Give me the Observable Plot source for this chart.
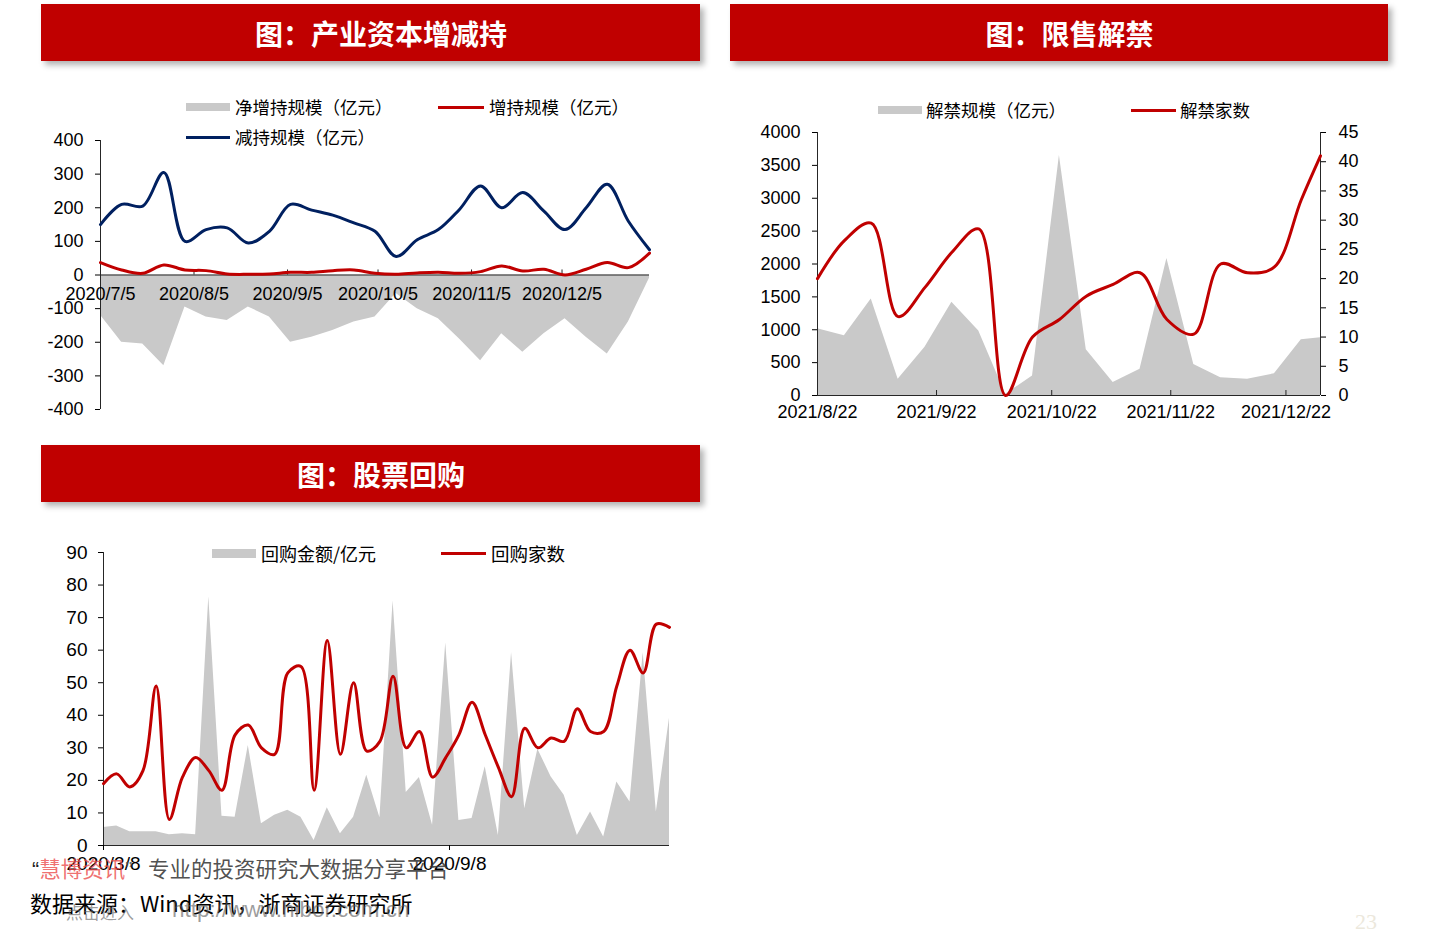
<!DOCTYPE html>
<html><head><meta charset="utf-8">
<script src="https://cdn.jsdelivr.net/npm/d3@7"></script>
<script src="https://cdn.jsdelivr.net/npm/@observablehq/plot@0.6"></script>
<style>
html,body{margin:0;padding:0;background:#fff;}
body{width:1440px;height:935px;position:relative;overflow:hidden;font-family:"Liberation Sans",Arial,"Noto Sans CJK SC",sans-serif;}
.abs{position:absolute;white-space:nowrap;line-height:1;}
.bar{position:absolute;box-sizing:border-box;padding-left:21px;background:#C00000;color:#fff;font-family:"Noto Sans CJK SC",sans-serif;font-weight:700;font-size:28px;display:flex;align-items:center;justify-content:center;box-shadow:4px 4px 6px rgba(0,0,0,0.3);}
.leg{position:absolute;font-family:"Noto Sans CJK SC",sans-serif;font-size:16px;color:#000;line-height:1;white-space:nowrap;transform:translateY(-50%);}
</style></head><body>
<script>
// ---------- Chart 1: 产业资本增减持 (weekly) ----------
const holdDates = ["2020-07-05","2020-07-12","2020-07-19","2020-07-26","2020-08-02","2020-08-09","2020-08-16","2020-08-23","2020-08-30","2020-09-06","2020-09-13","2020-09-20","2020-09-27","2020-10-04","2020-10-11","2020-10-18","2020-10-25","2020-11-01","2020-11-08","2020-11-15","2020-11-22","2020-11-29","2020-12-06","2020-12-13","2020-12-20","2020-12-27","2021-01-03"];
const holdNet      = [-120,-200,-205,-270,-95,-125,-135,-95,-125,-200,-185,-165,-140,-125,-55,-100,-130,-190,-255,-175,-230,-175,-130,-185,-235,-140,-10];
const holdIncrease = [37,15,5,30,15,13,3,2,3,8,8,13,15,5,2,6,8,5,10,27,12,17,0,17,37,22,65];
const holdDecrease = [150,210,205,305,100,135,140,95,130,210,193,178,155,130,55,105,135,195,265,200,245,190,135,200,270,160,75];
const holdXTicks = ["2020-07-05","2020-08-05","2020-09-05","2020-10-05","2020-11-05","2020-12-05"];
const holdYTicks = [-400,-300,-200,-100,0,100,200,300,400];

// ---------- Chart 2: 限售解禁 (weekly) ----------
const unlockDates = ["2021-08-22","2021-08-29","2021-09-05","2021-09-12","2021-09-19","2021-09-26","2021-10-03","2021-10-10","2021-10-17","2021-10-24","2021-10-31","2021-11-07","2021-11-14","2021-11-21","2021-11-28","2021-12-05","2021-12-12","2021-12-19","2021-12-26","2021-12-31"];
const unlockAmount = [1016,910,1469,249,732,1418,981,20,295,3650,696,198,400,2084,473,269,249,330,849,879];
const unlockCount  = [20,26.5,29.5,13.5,18.5,24.5,28.5,0,10,13,17,19,21,13,10.5,22.5,21,22,33.5,41];
const unlockXTicks = ["2021-08-22","2021-09-22","2021-10-22","2021-11-22","2021-12-22"];
const unlockLeftTicks  = [0,500,1000,1500,2000,2500,3000,3500,4000];
const unlockRightTicks = [0,5,10,15,20,25,30,35,40,45];

// ---------- Chart 3: 股票回购 (weekly) ----------
const buybackDates = ["2020-03-08","2020-03-15","2020-03-22","2020-03-29","2020-04-05","2020-04-12","2020-04-19","2020-04-26","2020-05-03","2020-05-10","2020-05-17","2020-05-24","2020-05-31","2020-06-07","2020-06-14","2020-06-21","2020-06-28","2020-07-05","2020-07-12","2020-07-19","2020-07-26","2020-08-02","2020-08-09","2020-08-16","2020-08-23","2020-08-30","2020-09-06","2020-09-13","2020-09-20","2020-09-27","2020-10-04","2020-10-11","2020-10-18","2020-10-25","2020-11-01","2020-11-08","2020-11-15","2020-11-22","2020-11-29","2020-12-06","2020-12-13","2020-12-20","2020-12-27","2021-01-03"];
const buybackAmount = [5.5,6,4.2,4.2,4.2,3.3,3.6,3.3,76.4,9,8.7,30.7,6.7,9.3,10.8,8.7,1.5,11.6,3.6,8.7,21.6,8.5,75.1,16.3,20.9,6.2,62.2,7.7,8.3,24.2,3.1,59.2,11.3,29.6,21.1,15.4,3.1,10.3,2.6,19.5,13.4,59.2,10.3,39.1];
const buybackCount  = [19,22,18,23,49,8,21,27,23,17,34,37,30,28,53,55,17,63,28,50,29,32,52,30,35,21,27,34,44,34,24,15,36,30,33,32,42,35,35,49,60,53,68,67];
const buybackXTicks = ["2020-03-08","2020-09-08"];
const buybackYTicks = [0,10,20,30,40,50,60,70,80,90];

// ---------- styling ----------
const GRAY = "#C9C9C9", RED = "#C00000", NAVY = "#002060", AX = "#262626";
const FONT = "'Liberation Sans', Arial, 'Noto Sans CJK SC', sans-serif";
const P = d3.utcParse("%Y-%m-%d");
const fmt = d3.utcFormat("%Y/%-m/%-d");

function put(el, left, top) {
  el.style.position = "absolute";
  el.style.left = left + "px";
  el.style.top = top + "px";
  document.body.appendChild(el);
}
function div(cls, html, css) {
  const d = document.createElement("div");
  d.className = cls; d.innerHTML = html; if (css) d.style.cssText += css;
  document.body.appendChild(d); return d;
}
function swatch(x1, x2, y, h, color) {
  div("abs", "", `left:${x1}px;top:${y - h/2}px;width:${x2 - x1}px;height:${h}px;background:${color};`);
}
function legendText(x, y, txt, size) {
  div("leg", txt, `left:${x}px;top:${y}px;font-size:${size}px;`);
}

// title bars
div("bar", "图：产业资本增减持", "left:41px;top:4px;width:659px;height:57px;");
div("bar", "图：限售解禁", "left:730px;top:4px;width:658px;height:57px;");
div("bar", "图：股票回购", "left:41px;top:445px;width:659px;height:57px;");

// ---------- Chart 1 ----------
{
  const dates = holdDates.map(P);
  const ticks = holdXTicks.map(P);
  const rows = dates.map((d, i) => ({date: d, net: holdNet[i], inc: holdIncrease[i], dec: holdDecrease[i]}));
  const svg = Plot.plot({
    width: 660, height: 310, marginLeft: 60, marginRight: 51, marginTop: 20, marginBottom: 21,
    style: {fontFamily: FONT, fontSize: "18px", color: "#000", background: "transparent", overflow: "visible"},
    x: {type: "utc", domain: [dates[0], dates[dates.length - 1]], axis: null},
    y: {domain: [-400, 400], axis: null},
    marks: [
      Plot.areaY(rows, {x: "date", y: "net", fill: GRAY}),
      Plot.ruleY([0], {stroke: AX, strokeWidth: 1}),
      Plot.ruleX(ticks, {x: d => d, y1: () => 0, y2: () => 15, stroke: AX}),
      Plot.ruleX([dates[0]], {y1: -400, y2: 400, stroke: AX}),
      Plot.axisY({ticks: holdYTicks, tickSize: 5, tickPadding: 12, tickFormat: d => String(d), label: null}),
      Plot.line(rows, {x: "date", y: "inc", stroke: RED, strokeWidth: 3, curve: "catmull-rom"}),
      Plot.line(rows, {x: "date", y: "dec", stroke: NAVY, strokeWidth: 3, curve: "catmull-rom"}),
      Plot.text(ticks, {x: d => d, y: () => 0, dy: 19, text: d => fmt(d), fill: "#000"})
    ]
  });
  put(svg, 40, 120);
  swatch(186, 230, 107, 8, GRAY); legendText(235, 107, "净增持规模（亿元）", 17.5);
  swatch(438, 484, 107, 3, RED);  legendText(489, 107, "增持规模（亿元）", 17.5);
  swatch(186, 230, 137, 3, NAVY); legendText(235, 137, "减持规模（亿元）", 17.5);
}

// ---------- Chart 2 ----------
{
  const dates = unlockDates.map(P);
  const ticks = unlockXTicks.map(P);
  const rows = dates.map((d, i) => ({date: d, amount: unlockAmount[i], count: unlockCount[i]}));
  const common = {
    width: 660, height: 330, marginLeft: 87, marginRight: 70, marginTop: 22, marginBottom: 45,
    style: {fontFamily: FONT, fontSize: "18px", color: "#000", background: "transparent", overflow: "visible"},
    x: {type: "utc", domain: [dates[0], dates[dates.length - 1]], axis: null}
  };
  const a = Plot.plot({...common,
    y: {domain: [0, 4000], axis: null},
    marks: [
      Plot.areaY(rows, {x: "date", y: "amount", fill: GRAY}),
      Plot.ruleY([0], {stroke: AX}),
      Plot.ruleX([dates[0]], {y1: 0, y2: 4000, stroke: AX}),
      Plot.ruleX([dates[dates.length - 1]], {y1: 0, y2: 4000, stroke: AX}),
      Plot.ruleX(ticks, {x: d => d, y1: () => 0, y2: () => 76, stroke: AX}),
      Plot.axisY({ticks: unlockLeftTicks, tickSize: 5, tickPadding: 12, tickFormat: d => String(d), label: null}),
      Plot.axisX({ticks: ticks, tickSize: 0, tickPadding: 10, tickFormat: fmt, label: null})
    ]
  });
  const b = Plot.plot({...common,
    y: {domain: [0, 45], axis: null},
    marks: [
      Plot.axisY({anchor: "right", ticks: unlockRightTicks, tickSize: 5, tickPadding: 13, tickFormat: d => String(d), label: null}),
      Plot.line(rows, {x: "date", y: "count", stroke: RED, strokeWidth: 3, curve: "catmull-rom"})
    ]
  });
  put(a, 730, 110);
  put(b, 730, 110);
  swatch(878, 922, 110, 8, GRAY); legendText(926, 110, "解禁规模（亿元）", 17.5);
  swatch(1131, 1176, 110, 3, RED); legendText(1180, 110, "解禁家数", 17.5);
}

// ---------- Chart 3 ----------
{
  const dates = buybackDates.map(P);
  const ticks = buybackXTicks.map(P);
  const rows = dates.map((d, i) => ({date: d, amount: buybackAmount[i], count: buybackCount[i]}));
  const svg = Plot.plot({
    width: 680, height: 360, marginLeft: 83, marginRight: 31, marginTop: 22, marginBottom: 45,
    style: {fontFamily: FONT, fontSize: "19px", color: "#000", background: "transparent", overflow: "visible"},
    x: {type: "utc", domain: [dates[0], dates[dates.length - 1]], axis: null},
    y: {domain: [0, 90], axis: null},
    marks: [
      Plot.areaY(rows, {x: "date", y: "amount", fill: GRAY}),
      Plot.ruleY([0], {stroke: AX}),
      Plot.ruleX([dates[0]], {y1: 0, y2: 90, stroke: AX}),
      Plot.axisY({ticks: buybackYTicks, tickSize: 5, tickPadding: 11, tickFormat: d => String(d), label: null}),
      Plot.axisX({ticks: ticks, tickSize: 5, tickPadding: 6, tickFormat: fmt, label: null}),
      Plot.line(rows, {x: "date", y: "count", stroke: RED, strokeWidth: 3, curve: "catmull-rom"})
    ]
  });
  put(svg, 20, 530);
  swatch(212, 256, 553, 9, GRAY); legendText(261, 553, "回购金额/亿元", 18);
  swatch(441, 486, 553, 3, RED);  legendText(491, 553, "回购家数", 18.5);
}

// ---------- footer texts ----------
div("abs", '<span style="color:#222;font-family:\'Liberation Sans\',sans-serif">“</span><span style="color:rgba(235,75,75,0.8)">慧博资讯</span><span style="color:rgba(80,80,80,0.8);font-family:\'Liberation Sans\',sans-serif">”</span>',
  "left:32px;top:857px;font-size:21.5px;font-family:'Noto Sans CJK SC',sans-serif;");
div("abs", '专业的投资研究大数据分享平台',
  "left:148px;top:857px;font-size:21.5px;color:rgba(50,50,50,0.85);font-family:'Noto Sans CJK SC',sans-serif;");
div("abs", "数据来源：Wind资讯，浙商证券研究所",
  "left:30px;top:891px;font-size:22px;color:#000;font-family:'Noto Sans CJK SC',sans-serif;");
div("abs", '点击进入', "left:66px;top:903px;font-size:17px;color:rgba(90,90,90,0.6);font-family:'Noto Sans CJK SC',sans-serif;");
div("abs", 'http://www.hibor.com.cn', "left:172px;top:899px;font-size:22.5px;color:rgba(90,90,90,0.6);font-family:'Liberation Sans',sans-serif;");
div("abs", "23", "left:1355px;top:911px;font-size:22px;color:#ECE8DC;font-family:'Liberation Serif',serif;");
</script>
</body></html>
